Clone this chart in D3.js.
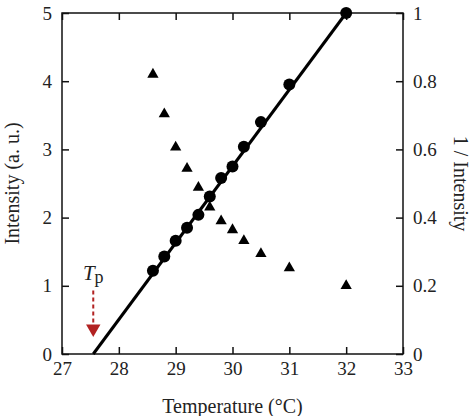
<!DOCTYPE html>
<html><head><meta charset="utf-8">
<script src="https://cdn.jsdelivr.net/npm/d3@7"></script>
<style>body{margin:0;background:#fff}text{font-family:"Liberation Serif","DejaVu Serif",serif;fill:#222}</style>
</head><body><div id="vis"></div>
<script>
// temperature (°C) shared by both series
const temps = [28.6, 28.8, 29.0, 29.2, 29.4, 29.6, 29.8, 30.0, 30.2, 30.5, 31.0, 32.0];
const intensity = [1.22, 1.43, 1.66, 1.85, 2.04, 2.31, 2.58, 2.75, 3.04, 3.40, 3.95, 5.0];
const invIntensity = [0.82, 0.704, 0.606, 0.544, 0.488, 0.43, 0.39, 0.364, 0.332, 0.294, 0.252, 0.2];
const fitLine = [[27.55, 0], [32.0, 5.0]];
const tp = 27.55;
const xTicks = [27, 28, 29, 30, 31, 32, 33];
const yTicks = [0, 1, 2, 3, 4, 5];
const y2Ticks = [0, 0.2, 0.4, 0.6, 0.8, 1];

const W = 474, H = 416;
const m = {top: 13, right: 71, bottom: 62, left: 62};
const svg = d3.select('#vis').append('svg').attr('width', W).attr('height', H);
const x = d3.scaleLinear().domain([27, 33]).range([m.left, W - m.right]);
const y = d3.scaleLinear().domain([0, 5]).range([H - m.bottom, m.top]);
const y2 = d3.scaleLinear().domain([0, 1]).range([H - m.bottom, m.top]);

const fs = '19px';
svg.append('g').attr('transform', `translate(0,${H - m.bottom})`)
  .call(d3.axisBottom(x).tickValues(xTicks).tickSize(-7).tickPadding(8).tickFormat(d3.format('d')))
  .call(g => g.selectAll('text').style('font-size', fs));
svg.append('g').attr('transform', `translate(0,${m.top})`)
  .call(d3.axisTop(x).tickValues(xTicks).tickSize(-7).tickFormat(''));
svg.append('g').attr('transform', `translate(${m.left},0)`)
  .call(d3.axisLeft(y).tickValues(yTicks).tickSize(-7).tickPadding(10).tickFormat(d3.format('d')))
  .call(g => g.selectAll('text').style('font-size', fs));
svg.append('g').attr('transform', `translate(${W - m.right},0)`)
  .call(d3.axisRight(y2).tickValues(y2Ticks).tickSize(-7).tickPadding(10).tickFormat(d => d === 0 || d === 1 ? d : d3.format('.1f')(d)))
  .call(g => g.selectAll('text').style('font-size', fs));
svg.selectAll('.tick line').attr('stroke', '#111').attr('stroke-width', 1.5);
svg.selectAll('.domain').remove();
svg.append('rect').attr('x', m.left).attr('y', m.top)
  .attr('width', W - m.left - m.right).attr('height', H - m.top - m.bottom)
  .attr('fill', 'none').attr('stroke', '#111').attr('stroke-width', 1.5);

const line = d3.line().x(d => x(d[0])).y(d => y(d[1]));
svg.append('path').datum(fitLine).attr('d', line).attr('stroke', '#000').attr('stroke-width', 3).attr('fill', 'none');

svg.selectAll('circle.pt').data(temps).join('circle')
  .attr('cx', d => x(d)).attr('cy', (d, i) => y(intensity[i])).attr('r', 6).attr('fill', '#000');
svg.selectAll('path.tri').data(temps).join('path').attr('class', 'tri')
  .attr('d', d3.symbol(d3.symbolTriangle, 55))
  .attr('transform', (d, i) => `translate(${x(d)},${y2(invIntensity[i])})`).attr('fill', '#000');

// Tp marker
svg.append('line').attr('x1', x(tp)).attr('x2', x(tp)).attr('y1', y(0.93)).attr('y2', y(0.45))
  .attr('stroke', '#b22222').attr('stroke-width', 2).attr('stroke-dasharray', '4,3');
svg.append('path').attr('d', d3.symbol(d3.symbolTriangle, 90))
  .attr('transform', `translate(${x(tp)},${y(0.37)}) rotate(180)`).attr('fill', '#b22222');
const tpLabel = svg.append('text').attr('x', x(tp)).attr('y', y(1.08)).attr('text-anchor', 'middle').style('font-size', '21px');
tpLabel.append('tspan').style('font-style', 'italic').text('T');
tpLabel.append('tspan').style('font-size', '18px').attr('dy', 3).text('p');

svg.append('text').attr('x', (m.left + W - m.right) / 2).attr('y', H - 3).attr('text-anchor', 'middle')
  .style('font-size', '20px').text('Temperature (°C)');
svg.append('text').attr('transform', `translate(19,${(m.top + H - m.bottom) / 2}) rotate(-90)`)
  .attr('text-anchor', 'middle').style('font-size', '20px').text('Intensity (a. u.)');
svg.append('text').attr('transform', `translate(${W - 20},${(m.top + H - m.bottom) / 2}) rotate(90)`)
  .attr('text-anchor', 'middle').style('font-size', '20px').text('1 / Intensity');
</script></body></html>
